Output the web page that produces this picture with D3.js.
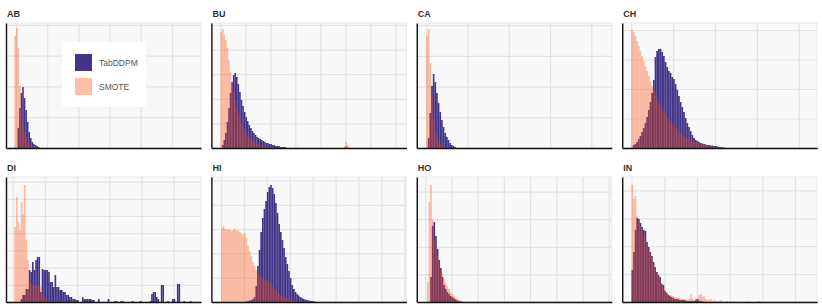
<!DOCTYPE html>
<html><head><meta charset="utf-8">
<script src="https://cdn.jsdelivr.net/npm/d3@7"></script>
<style>
html,body{margin:0;padding:0;background:#fff;}
svg{display:block;font-family:"Liberation Sans",Arial,Helvetica,sans-serif;}
</style></head><body>
<svg id="chart" width="822" height="308"></svg>
<script>
// ---------------- DATA (bin counts, arbitrary units) ----------------
const panelNames = ["AB","BU","CA","CH","DI","HI","HO","IN"];
const seriesNames = ["TabDDPM","SMOTE"];

const abTabStart = 1;
const abTab = [20,40,55,61,50,38,26,16,10,6,4,3,2,1];
const abSmoteStart = -1;
const abSmote = [112,120,100,62,40,25,16,10,6,4,2,1];

const buTabStart = 1;
const buTab = [3,8,15,26,40,55,66,73,75,71,64,56,48,42,36,31,27,23,20,17,15,13,11,10,9,8,7,6,5,5,4,4,3,3,2,2,2,1,1,1,1];
const buTabTailStart = 80;
const buTabTail = [1];
const buSmoteStart = 0;
const buSmote = [116,119,113,108,100,88,76,65,56,48,41,35,30,25,21,18,15,12,10,8,7,6,5,4,3,3,2,2,1,1];
const buSmoteTailStart = 79;
const buSmoteTail = [2,6,3];

const caTabStart = 1;
const caTab = [10,35,62,74,66,55,45,36,28,21,15,11,8,5,3,2,1];
const caSmoteStart = 0;
const caSmote = [112,119,85,50,30,18,11,7,4,3,2,1];

const chTabStart = 1;
const chTab = [3,4,6,9,12,16,20,25,31,38,46,55,68,91,97,99,99,96,92,86,81,77,75,71,69,64,58,52,46,41,36,30,25,21,17,13,10,8,7,6,5,4.5,4,3.5,3,3,2.5,2.5,2,2,1.5,1,1,0.5,0.5];
const chSmoteStart = 0;
const chSmote = [118,116,112,107,102,97,92,87,82,77,72,67,62,58,54,50,46,43,40,37,34,31,29,26,24,22,20,18,16,15,13,12,11,10,9,8,7,6,5.5,5,4.5,4,3.5,3,3,2.5,2,2,1.5,1.5,1,1,1,0.5,0.5,0.5];

const diTabStart = 5;
const diTab = [3,7,7,13,13,32,30,40,32,42,45,45,10,33,32,32,32,30,20,20,15,27,15,15,12,12,10,10,7,7,5,5,3,3,2,2,0,0,5,3,3,3,3,3,2,2,0,0,3,
  0,0,0,0,0,3,0,0,0,1,1,0,0,1,1,0,0,0,0,0,1,0,0,0,0,1,0,0,0,0,0,1,8,10,10,5,3,0,17,17,0,0,1,0,0,3,3,0,18,18,0,0,1,0,0,0,1];
const diSmoteStart = 1;
const diSmote = [75,105,80,72,100,88,117,62,42,20,18,17,17,17,16,16,15,8,5,3,2,1];

const hiTabStart = 15;
const hiTab = [0.5,1,1.5,2,3,5,16,36,52,70,84,93,101,110,115,117,114,108,99,89,78,70,62,54,45,38,31,24,17,13,10,8,6.5,5,4,3,2.5,2,1.5,1.2,1,0.7,0.5];
const hiSmoteStart = 0;
const hiSmote = [74,76,73,72,73,72,71,72,73,71,72,70,69,67,69,64,56,51,46,40,36,32,28,26,25,24,23,22,21,20,18,16,14,12,10,8,7,6,5,4,3,2.5,2,1.5,1,1,0.5];

const hoTabStart = 3;
const hoTab = [25,76,80,66,53,42,34,25,17,13,10,8,6,5,3.5,2.5,1.5,1,0.5];
const hoSmoteStart = 1;
const hoSmote = [20,100,117,82,64,54,46,40,33,28,23,19,16,13,10,8,6,4,3,2,1,1];

const inTabStart = 0;
const inTab = [32,50,72,84,83,79,75,72,71,60,55,50,46,40,35,30,27,25,18,17,11,9,7,6,5,4,3,3,3,2,2,2,2,1,1,1,1,1,1,2,3,1,1,0.5];
const inSmoteStart = 0;
const inSmote = [117,103,106,86,80,76,72,66,64,58,53,49,45,38,35,30,26,23,19,15,13,10,8,7,7,6,5,5,4,4,3,3,3,2,2,3,8,3,2,4,2,7,8,5,6,3,2,2,3,1,2,1,1,1,2,1,0,1,1,0,1,0,1,0,0,0,0,0,0,0,1,0,1,0,0,0,0,1,1];

// axis settings per panel: x domain (bin units), x grid step (bins), y grid step (count units)
const xDomains = [[-6.4,118.6],[-5.76,119.04],[-5.69,112.35],[-5.37,111],[-4.16,116.96],[-5.93,113.3],[-5.19,113.9],[-5.69,113.6]];
const xGridSteps = [20,16,25,25,20,14,16,20];
const yGridSteps = [30.8,24.6,30.7,29.5,17.2,24.3,27.6,27.9];
const yMax = 125;

// ---------------- BUILD ----------------
function bins(start, values){ return values.map((v,i)=>({b:start+i, v})); }
const tabSeries = [
  bins(abTabStart,abTab),
  bins(buTabStart,buTab).concat(bins(buTabTailStart,buTabTail)),
  bins(caTabStart,caTab),
  bins(chTabStart,chTab),
  bins(diTabStart,diTab),
  bins(hiTabStart,hiTab),
  bins(hoTabStart,hoTab),
  bins(inTabStart,inTab)
];
const smoteSeries = [
  bins(abSmoteStart,abSmote),
  bins(buSmoteStart,buSmote).concat(bins(buSmoteTailStart,buSmoteTail)),
  bins(caSmoteStart,caSmote),
  bins(chSmoteStart,chSmote),
  bins(diSmoteStart,diSmote),
  bins(hiSmoteStart,hiSmote),
  bins(hoSmoteStart,hoSmote),
  bins(inSmoteStart,inSmote)
];

const pw = 195, ph = 125;
const rowTops = [23, 177];
const colPitch = 205.4, left0 = 6;
const tabColor = "#2e1e7b", smoteColor = "orangered";

const svg = d3.select("#chart");
svg.append("rect").attr("width",822).attr("height",308).attr("fill","#fff");

panelNames.forEach((name,i)=>{
  const col = i%4, row = Math.floor(i/4);
  const g = svg.append("g").attr("transform",`translate(${left0+col*colPitch},${rowTops[row]})`);
  const x = d3.scaleLinear().domain(xDomains[i]).range([0,pw]);
  const y = d3.scaleLinear().domain([0,yMax]).range([ph,0]);

  g.append("rect").attr("width",pw).attr("height",ph).attr("fill","#f8f8f8")
    .attr("stroke","#e9e9e9").attr("stroke-width",1);

  const xt = d3.range(0, xDomains[i][1], xGridSteps[i]);
  const yt = d3.range(yGridSteps[i], yMax, yGridSteps[i]);
  const gx = g.append("g").attr("transform",`translate(0,${ph})`)
    .call(d3.axisBottom(x).tickValues(xt).tickSize(-ph).tickFormat(""));
  gx.select(".domain").remove();
  const gy = g.append("g").call(d3.axisLeft(y).tickValues(yt).tickSize(-pw).tickFormat(""));
  gy.select(".domain").remove();
  g.selectAll(".tick line").attr("stroke","#e3e3e3").attr("stroke-width",1.2);

  const drawBars = (data, fill, op) => {
    g.append("g").selectAll("rect").data(data.filter(d=>d.v>0)).join("rect")
      .attr("x", d=>x(d.b)).attr("width", d=>x(d.b+1)-x(d.b))
      .attr("y", d=>y(d.v)).attr("height", d=>ph-y(d.v))
      .attr("fill", fill).attr("fill-opacity", op);
  };
  drawBars(tabSeries[i], tabColor, 0.9);
  drawBars(smoteSeries[i], smoteColor, 0.35);

  // axis lines
  const ax = g.append("g").attr("transform",`translate(0,${ph})`)
    .call(d3.axisBottom(x).tickValues([]).tickSizeOuter(0));
  const ay = g.append("g").call(d3.axisLeft(y).tickValues([]).tickSizeOuter(0));
  [ax,ay].forEach(a=>a.select(".domain").attr("stroke","#111").attr("stroke-width",1.4));

  g.append("text").attr("x",1).attr("y",-6).text(name)
    .attr("font-size","9px").attr("font-weight","bold").attr("fill","#333");

  if(i===0){
    const lg = g.append("g").attr("transform","translate(56,19)");
    lg.append("rect").attr("width",84).attr("height",65).attr("fill","#fff");
    const cols = [[tabColor,0.9],[smoteColor,0.35]];
    seriesNames.forEach((s,k)=>{
      lg.append("rect").attr("x",13).attr("y",12+k*24).attr("width",17).attr("height",17)
        .attr("fill",cols[k][0]).attr("fill-opacity",cols[k][1]);
      lg.append("text").attr("x",37).attr("y",24+k*23.5).text(s)
        .attr("font-size","8.5px").attr("fill","#555");
    });
  }
});
</script>
</body></html>
